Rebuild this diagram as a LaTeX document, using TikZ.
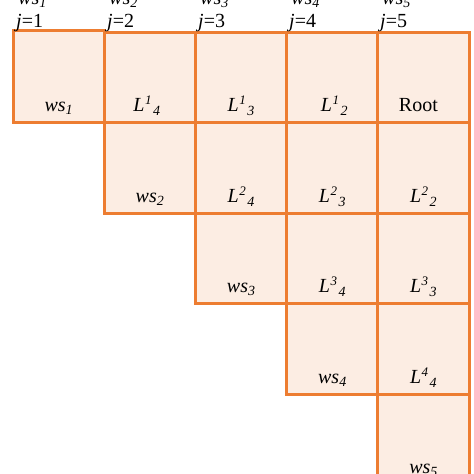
\documentclass[tikz,border=0pt]{standalone}
\usepackage{fontspec}
\setmainfont{Liberation Serif}
\definecolor{cellline}{RGB}{237,125,49}
\definecolor{cellfill}{RGB}{252,237,227}
\newcommand{\Lab}[2]{\textit{L}\kern0.5pt\raisebox{0.75ex}{\fontsize{13}{13}\selectfont\textit{#1}}\kern1.5pt\raisebox{-0.45ex}{\fontsize{14}{14}\selectfont\textit{#2}}}
\newcommand{\Ws}[1]{\textit{ws}\raisebox{-0.35ex}{\fontsize{14}{14}\selectfont\textit{#1}}}
\begin{document}
\begin{tikzpicture}[x=1pt,y=1pt,
  cell/.style={draw=cellline,fill=cellfill,line width=3pt,minimum width=91.2pt,minimum height=90.5pt,inner sep=0pt,outer sep=0pt},
  txt/.style={font=\fontsize{20}{23}\selectfont,inner sep=0pt,anchor=base},
  top/.style={font=\fontsize{20}{23}\selectfont,inner sep=0pt,anchor=base west}]
\useasboundingbox (0,0) rectangle (474,-474);
% column left edges: 13,104.2,195.4,286.6,377.8 ; row tops: 32,122.5,213,303.5,394
\node[cell,minimum height=92pt] (c11) at (58.6,-76.5) {};
\node[cell] (c12) at (149.8,-77.25) {};
\node[cell] (c13) at (241.0,-77.25) {};
\node[cell] (c14) at (332.2,-77.25) {};
\node[cell] (c15) at (423.4,-77.25) {};
\node[cell] (c22) at (149.8,-167.75) {};
\node[cell] (c23) at (241.0,-167.75) {};
\node[cell] (c24) at (332.2,-167.75) {};
\node[cell] (c25) at (423.4,-167.75) {};
\node[cell] (c33) at (241.0,-258.25) {};
\node[cell] (c34) at (332.2,-258.25) {};
\node[cell] (c35) at (423.4,-258.25) {};
\node[cell] (c44) at (332.2,-348.75) {};
\node[cell] (c45) at (423.4,-348.75) {};
\node[cell] (c55) at (423.4,-439.25) {};
% cell texts
\node[txt] (t11) at ([yshift=11pt]c11.south) {\Ws{1}};
\node[txt] (t12) at ([yshift=11pt,xshift=-3pt]c12.south) {\Lab{1}{4}};
\node[txt] (t13) at ([yshift=11pt]c13.south) {\Lab{1}{3}};
\node[txt] (t14) at ([yshift=11pt,xshift=2pt]c14.south) {\Lab{1}{2}};
\node[txt] (t15) at ([yshift=11pt,xshift=-5pt]c15.south) {Root};
\node[txt] (t22) at ([yshift=11pt]c22.south) {\Ws{2}};
\node[txt] (t23) at ([yshift=11pt]c23.south) {\Lab{2}{4}};
\node[txt] (t24) at ([yshift=11pt]c24.south) {\Lab{2}{3}};
\node[txt] (t25) at ([yshift=11pt]c25.south) {\Lab{2}{2}};
\node[txt] (t33) at ([yshift=11pt]c33.south) {\Ws{3}};
\node[txt] (t34) at ([yshift=11pt]c34.south) {\Lab{3}{4}};
\node[txt] (t35) at ([yshift=11pt]c35.south) {\Lab{3}{3}};
\node[txt] (t44) at ([yshift=11pt]c44.south) {\Ws{4}};
\node[txt] (t45) at ([yshift=11pt]c45.south) {\Lab{4}{4}};
\node[txt] (t55) at ([yshift=11pt]c55.south) {\Ws{5}};
% top labels
\node[top] (w1) at (18,-4) {\Ws{1}};
\node[top] (w2) at (109,-4) {\Ws{2}};
\node[top] (w3) at (200,-4) {\Ws{3}};
\node[top] (w4) at (291,-4) {\Ws{4}};
\node[top] (w5) at (382,-4) {\Ws{5}};
\node[top] (j1) at (16,-27) {\textit{j}=1};
\node[top] (j2) at (107,-27) {\textit{j}=2};
\node[top] (j3) at (198,-27) {\textit{j}=3};
\node[top] (j4) at (289,-27) {\textit{j}=4};
\node[top] (j5) at (380,-27) {\textit{j}=5};
\end{tikzpicture}
\end{document}
